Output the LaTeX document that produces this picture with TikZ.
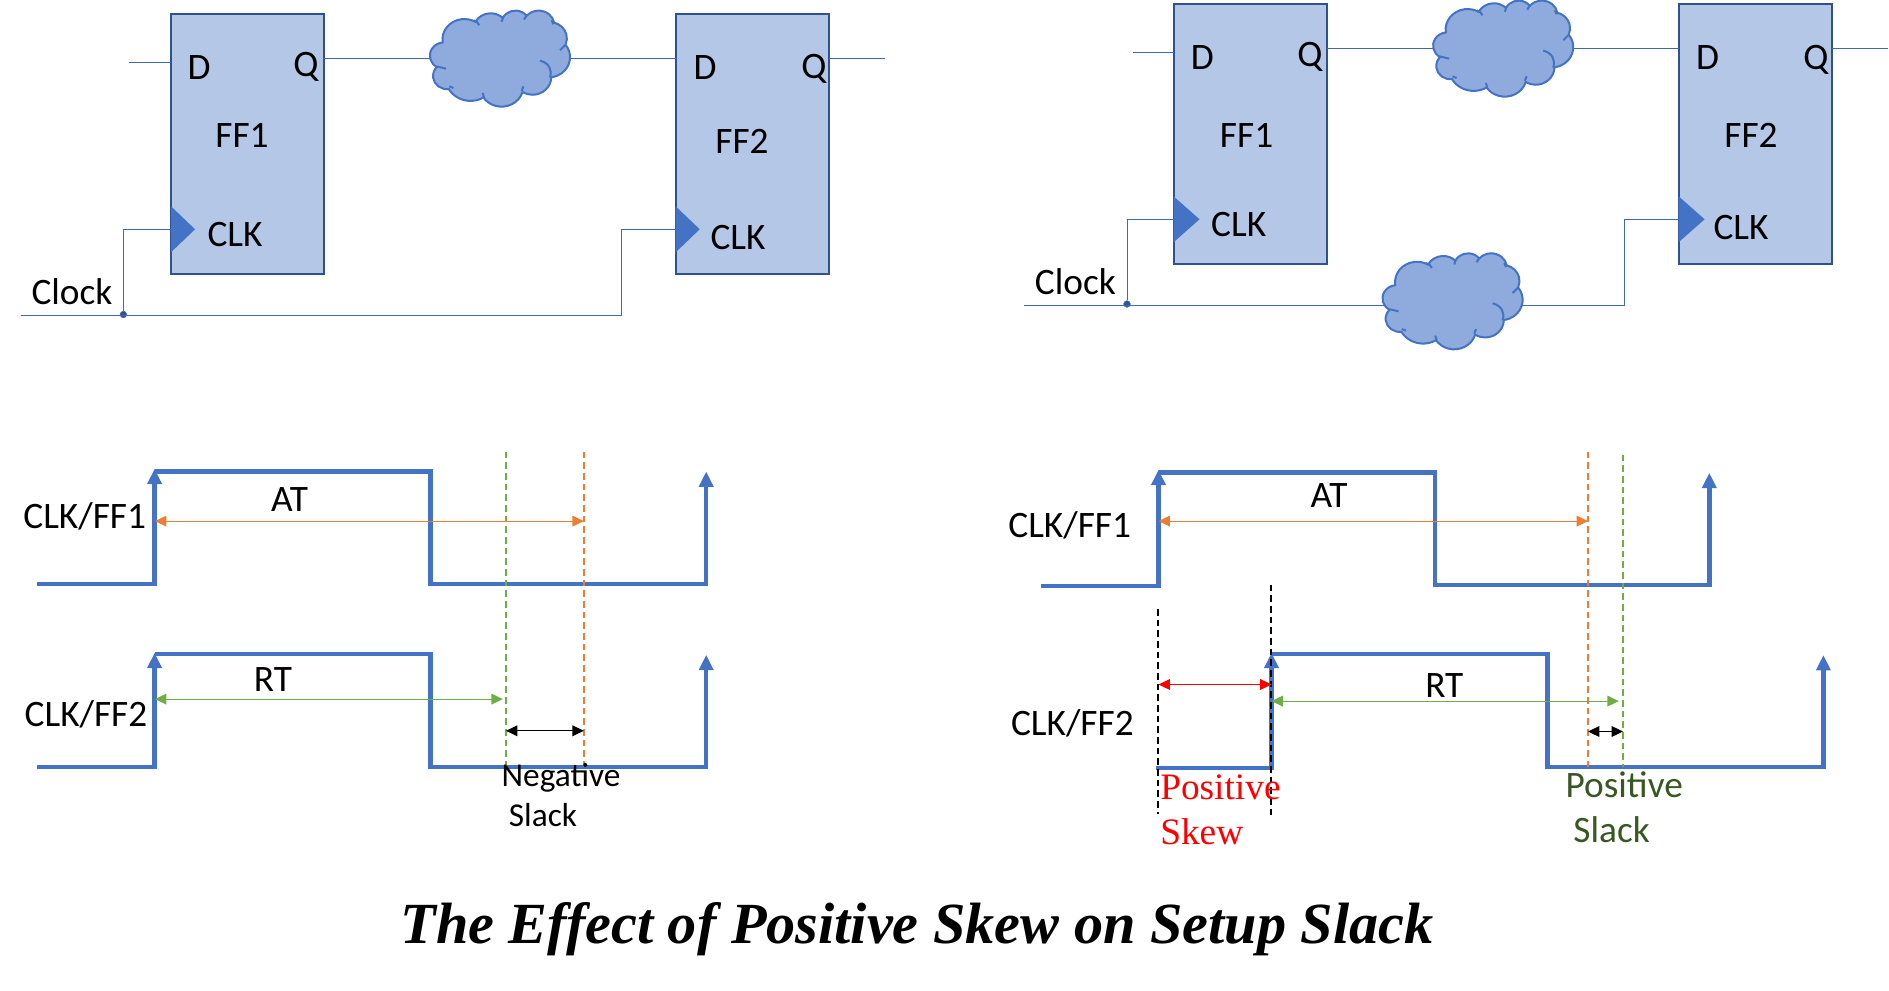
\documentclass[tikz,border=0pt]{standalone}
\usepackage{fontspec}
\setmainfont{Carlito}
\newfontfamily\timesfont{Liberation Serif}
\usetikzlibrary{arrows.meta}

\definecolor{boxfill}{RGB}{180,199,231}
\definecolor{boxline}{RGB}{47,82,143}
\definecolor{cloudfill}{RGB}{143,170,220}
\definecolor{sigblue}{RGB}{68,114,196}
\definecolor{atorange}{RGB}{237,125,49}
\definecolor{rtgreen}{RGB}{112,173,71}
\definecolor{slackgreen}{RGB}{56,87,35}

\tikzset{
  ffbox/.style={draw=boxline,line width=1.5pt,fill=boxfill,minimum width=115pt,minimum height=195pt,inner sep=0pt,outer sep=0pt},
  cloudbox/.style={minimum width=105pt,minimum height=72pt,inner sep=0pt,outer sep=0pt},
  sigline/.style={draw=sigblue!70!boxline,line width=0.75pt},
  jdot/.style={circle,fill=boxline,draw=sigblue,inner sep=0pt,minimum size=5pt},
  lbl/.style={font=\fontsize{28}{28}\selectfont,anchor=base,inner sep=0pt,yshift=-0.9pt},
  smalllbl/.style={font=\fontsize{25}{25}\selectfont,anchor=base,inner sep=0pt,yshift=-0.9pt},
  skewlbl/.style={font=\timesfont\fontsize{28}{28}\selectfont,text=red,anchor=base west,inner sep=0pt,yshift=-0.9pt},
  wave/.style={draw=sigblue,line width=3.4pt,line join=miter},
  waveup/.style={wave,-{Triangle[length=11.5pt,width=10.5pt]}},
  span/.style={line width=0.8pt,{Triangle[length=8.5pt,width=8pt]}-{Triangle[length=8.5pt,width=8pt]}},
  timeline/.style={line width=1.1pt,dash pattern=on 5pt off 3pt}
}

% cloud outline drawn inside the (empty) node #1, on a 100 by 100 grid
\newcommand{\cloudbody}[1]{%
\begin{scope}[shift={(#1.north west)},xscale=1.4,yscale=0.96]
\draw [draw=sigblue,line width=1.5pt,fill=cloudfill] (9.03,33.26)
  arc[start angle=-187.75,end angle=-59.64,x radius=15.63,y radius=21.27]
  arc[start angle=-152.02,end angle=-45.45,x radius=12.35,y radius=16.82]
  arc[start angle=-153.49,end angle=-37.33,x radius=10.10,y radius=13.76]
  arc[start angle=-139.71,end angle=-10.22,x radius=11.24,y radius=15.27]
  arc[start angle=-74.77,end angle=23.21,x radius=12.35,y radius=16.84]
  arc[start angle=-37.52,end angle=81.86,x radius=15.68,y radius=21.34]
  arc[start angle=0.46,end angle=121.99,x radius=13.39,y radius=18.21]
  arc[start angle=16.85,end angle=146.24,x radius=15.63,y radius=21.33]
  arc[start angle=58.98,end angle=150.18,x radius=17.87,y radius=24.40]
  arc[start angle=83.31,end angle=223.11,x radius=10.09,y radius=13.70]
  arc[start angle=120.36,end angle=264.11,x radius=10.06,y radius=13.76]
  -- cycle;
\draw [draw=sigblue,line width=1.5pt] (4.9,58.5) .. controls (8,60.5) .. (11.4,60.8);
\draw [draw=sigblue,line width=1.5pt] (78.6,52.4) .. controls (85,55) and (87.5,62) .. (85.7,70.1);
\draw [draw=sigblue,line width=1.5pt] (16.7,80.9) .. controls (15,80.5) .. (13.8,79.2);
\draw [draw=sigblue,line width=1.5pt] (37.6,86) .. controls (37.8,88.5) .. (38.6,91);
\draw [draw=sigblue,line width=1.5pt] (66.7,79.2) .. controls (66.4,82) .. (65.5,84);
\draw [draw=sigblue,line width=1.5pt] (35.2,15.6) .. controls (34,12.5) .. (31,10.4);
\draw [draw=sigblue,line width=1.5pt] (51.2,12) .. controls (51.5,9) .. (52.2,7);
\draw [draw=sigblue,line width=1.5pt] (67.2,9.7) .. controls (68,7.5) .. (69.1,5);
\draw [draw=sigblue,line width=1.5pt] (88.1,14.6) .. controls (87.5,12.5) .. (86.9,10.4);
\draw [draw=sigblue,line width=1.5pt] (92.9,41.6) .. controls (95,39.5) .. (96.4,36.5);
\end{scope}}

\begin{document}
\begin{tikzpicture}[x=0.75pt,y=0.75pt,yscale=-1,xscale=1]
\useasboundingbox (0,0) rectangle (1889,991);

%Left circuit
\coordinate (dinl) at (129,62.3);
\coordinate (qoutl) at (885,58.3);
\coordinate (clkinl) at (20.7,315.7);
\coordinate (clkturnl) at (621.7,315.7);
\coordinate (clkal) at (171,229.3);
\coordinate (clkbl) at (675.7,229.3);
\node [jdot] (jointl) at (123.4,314.5) {};
\node [ffbox] (ffal) at (247.6,144) {};
\node [ffbox] (ffbl) at (752.6,144) {};
\node [cloudbox] (cloudl) at (500,58.3) {};
\draw [sigline] (dinl) -- (dinl -| ffal.west);
\draw [sigline] (ffal.east |- cloudl) -- (cloudl.west);
\draw [sigline] (cloudl.east) -- (cloudl.east -| ffbl.west);
\draw [sigline] (ffbl.east |- qoutl) -- (qoutl);
\draw [sigline] (clkinl) -- (clkturnl) -- (clkturnl |- clkbl) -- (clkbl);
\draw [sigline] (jointl) -- (jointl |- clkal) -- (clkal);
\cloudbody{cloudl}
\fill [sigblue] (clkal) ++(0,-23) -- ++(24,23) -- ++(-24,23) -- cycle;
\fill [sigblue] (clkbl) ++(0,-23) -- ++(24,23) -- ++(-24,23) -- cycle;
\node [lbl] (dal) at (199,78.3) {D};
\node [lbl] (qal) at (306,75) {Q};
\node [lbl] (nameal) at (242,146.7) {FF1};
\node [lbl] (ckal) at (235,245) {CLK};
\node [lbl] (dbl) at (705,78.3) {D};
\node [lbl] (qbl) at (814,77.7) {Q};
\node [lbl] (namebl) at (742,152.7) {FF2};
\node [lbl] (ckbl) at (738,248.3) {CLK};
\node [lbl] (clockl) at (72,303.3) {Clock};

%Right circuit
\coordinate (dinr) at (1133.2,52.3);
\coordinate (qoutr) at (1888,48.3);
\coordinate (clkinr) at (1023.8,305.6);
\coordinate (clkturnr) at (1624.7,305.6);
\coordinate (clkar) at (1173.5,219.3);
\coordinate (clkbr) at (1678.6,219.3);
\node [jdot] (jointr) at (1127,304) {};
\node [ffbox] (ffar) at (1250.6,133.7) {};
\node [ffbox] (ffbr) at (1755.4,133.7) {};
\node [cloudbox] (cloudr) at (1503.2,48.3) {};
\node [cloudbox] (cloudc) at (1452.6,301) {};
\draw [sigline] (dinr) -- (dinr -| ffar.west);
\draw [sigline] (ffar.east |- cloudr) -- (cloudr.west);
\draw [sigline] (cloudr.east) -- (cloudr.east -| ffbr.west);
\draw [sigline] (ffbr.east |- qoutr) -- (qoutr);
\draw [sigline] (clkinr) -- (clkinr -| cloudc.center);
\draw [sigline] (clkinr -| cloudc.center) -- (clkturnr) -- (clkturnr |- clkbr) -- (clkbr);
\draw [sigline] (jointr) -- (jointr |- clkar) -- (clkar);
\cloudbody{cloudr}
\cloudbody{cloudc}
\fill [sigblue] (clkar) ++(0,-23) -- ++(26,23) -- ++(-26,23) -- cycle;
\fill [sigblue] (clkbr) ++(0,-23) -- ++(26,23) -- ++(-26,23) -- cycle;
\node [lbl] (dar) at (1202.4,68.3) {D};
\node [lbl] (qar) at (1310,65) {Q};
\node [lbl] (namear) at (1246.6,146.7) {FF1};
\node [lbl] (ckar) at (1238.7,235) {CLK};
\node [lbl] (dbr) at (1707.5,68.3) {D};
\node [lbl] (qbr) at (1816,68.3) {Q};
\node [lbl] (namebr) at (1751,146.7) {FF2};
\node [lbl] (ckbr) at (1741,238.3) {CLK};
\node [lbl] (clockr) at (1075.4,293.3) {Clock};

%Left waveforms
\begin{scope}[yshift=0.6pt]
\draw [wave] (37.2,583.3) -- (154.6,583.3);
\draw [waveup] (154.6,585) -- (154.6,468);
\draw [wave] (154.6,470.7) -- (430.6,470.7) -- (430.6,583.3) -- (704.5,583.3);
\draw [waveup] (706.2,585) -- (706.2,470.7);
\draw [wave] (37.2,766) -- (154.6,766);
\draw [waveup] (154.6,767.7) -- (154.6,652);
\draw [wave] (154.6,653.3) -- (430.6,653.3) -- (430.6,766) -- (704.5,766);
\draw [waveup] (706.2,767.7) -- (706.2,654);
\coordinate (rtl) at (506,450.7);
\coordinate (atl) at (583.8,450.7);
\draw [timeline,draw=rtgreen] (rtl) -- (506,766);
\draw [timeline,draw=atorange] (atl) -- (583.8,766);
\coordinate (atstartl) at (155,520.3);
\coordinate (atendl) at (583.8,520.3);
\coordinate (rtstartl) at (155,698.3);
\coordinate (rtendl) at (502.8,698.3);
\coordinate (slackal) at (506,730);
\coordinate (slackbl) at (583.8,730);
\draw [span,draw=atorange,fill=atorange] (atstartl) -- (atendl);
\draw [span,draw=rtgreen,fill=rtgreen] (rtstartl) -- (rtendl);
\draw [span,draw=black,fill=black] (slackal) -- (slackbl);
\end{scope}
\node [lbl] (atlabl) at (289.6,510) {AT};
\node [lbl] (rtlabl) at (273,690) {RT};
\node [lbl] (wavenamea) at (84.7,527.3) {CLK/FF1};
\node [lbl] (wavenameb) at (86,725) {CLK/FF2};
\node [smalllbl] (negl) at (561,785) {Negative};
\node [smalllbl] (slackl) at (543,825) {Slack};

%Right waveforms
\begin{scope}[yshift=0.6pt]
\draw [wave] (1041,585.3) -- (1158.5,585.3);
\draw [waveup] (1158.5,587) -- (1158.5,469);
\draw [wave] (1158.5,471.7) -- (1435,471.7) -- (1435,584) -- (1707.6,584);
\draw [waveup] (1709.3,585.7) -- (1709.3,472);
\draw [wave] (1156.3,767.3) -- (1271.5,767.3);
\draw [waveup] (1271.5,769) -- (1271.5,652);
\draw [wave] (1271.5,653.3) -- (1547.5,653.3) -- (1547.5,766) -- (1821.7,766);
\draw [waveup] (1823.4,767.7) -- (1823.4,654.3);
\coordinate (atr) at (1588,450.7);
\coordinate (rtr) at (1623,454);
\coordinate (skewa) at (1158,608.3);
\coordinate (skewb) at (1271,584);
\draw [timeline,draw=atorange] (atr) -- (1588,766);
\draw [timeline,draw=rtgreen] (rtr) -- (1623,766);
\draw [timeline,draw=black] (skewa) -- (1158,812.7);
\draw [timeline,draw=black] (skewb) -- (1271,816);
\coordinate (atstartr) at (1158.5,520.3);
\coordinate (atendr) at (1588,520.3);
\coordinate (rtstartr) at (1271.5,700.3);
\coordinate (rtendr) at (1618.8,700.3);
\coordinate (skewstart) at (1158.5,683.7);
\coordinate (skewend) at (1271.5,683.7);
\coordinate (slackar) at (1588,730.7);
\coordinate (slackbr) at (1623,730.7);
\draw [span,draw=atorange,fill=atorange] (atstartr) -- (atendr);
\draw [span,draw=rtgreen,fill=rtgreen] (rtstartr) -- (rtendr);
\draw [span,draw=red,fill=red] (skewstart) -- (skewend);
\draw [span,draw=black,fill=black] (slackar) -- (slackbr);
\end{scope}
\node [lbl] (atlabr) at (1329,506) {AT};
\node [lbl] (rtlabr) at (1444.3,696) {RT};
\node [lbl] (wavenamec) at (1069.7,536) {CLK/FF1};
\node [lbl] (wavenamed) at (1072.4,734) {CLK/FF2};
\node [skewlbl] (skewposr) at (1160,798) {Positive};
\node [skewlbl] (skewnamer) at (1160,843.3) {Skew};
\node [lbl,text=slackgreen] (slackposr) at (1624.2,796.7) {Positive};
\node [lbl,text=slackgreen] (slacknamer) at (1611.6,841.7) {Slack};

%Title
\node [font=\timesfont\bfseries\itshape\fontsize{43.7}{44}\selectfont,anchor=base,inner sep=0pt] (title) at (917,943.8) {The Effect of Positive Skew on Setup Slack};

\end{tikzpicture}
\end{document}
